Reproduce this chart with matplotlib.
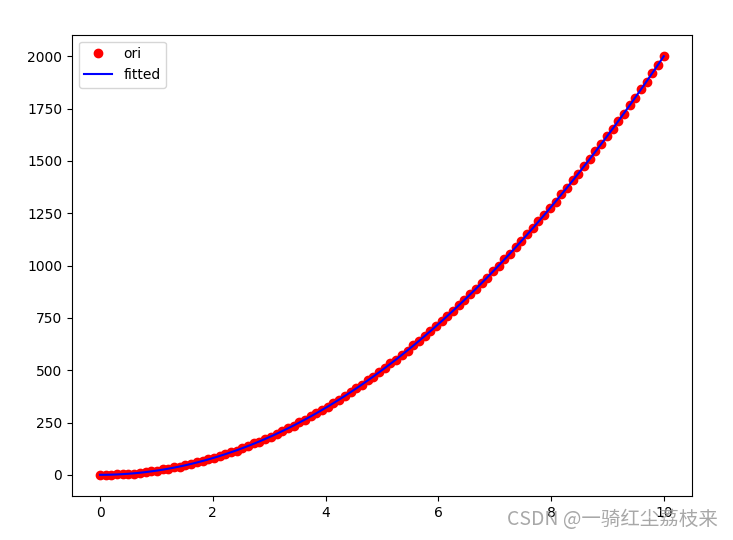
import matplotlib
matplotlib.use("Agg")
import matplotlib.pyplot as plt
import numpy as np

# sample points (100 points from 0 to 10)
x_vals = np.linspace(0, 10, 100)
y_ori = [0.0, 1.5, -0.8, 3.2, 2.1, 6.0, 5.8, 11.2, 12.0, 18.1,
         19.5, 26.3, 28.0, 35.9, 38.6, 47.2, 51.0, 60.4, 64.8, 75.1,
         80.2, 91.4, 97.5, 109.3, 116.0, 129.0, 136.4, 150.1, 158.7, 173.0,
         182.2, 197.5, 207.6, 223.6, 234.4, 251.4, 263.0, 280.8, 293.2, 311.8,
         325.0, 344.4, 358.5, 378.7, 393.6, 414.6, 430.3, 452.2, 468.7, 491.3,
         508.7, 532.2, 550.3, 574.6, 593.5, 618.7, 638.4, 664.4, 685.0, 711.7,
         733.1, 760.7, 782.9, 811.3, 834.3, 863.6, 887.4, 917.4, 942.1, 972.9,
         998.4, 1030.1, 1056.3, 1088.9, 1115.9, 1149.2, 1177.2, 1211.3, 1240.0, 1274.9,
         1304.5, 1340.2, 1370.6, 1407.2, 1438.3, 1475.7, 1507.7, 1545.9, 1578.7, 1617.8,
         1651.4, 1691.2, 1725.7, 1766.3, 1801.6, 1843.0, 1879.1, 1921.4, 1958.3, 2003.5]

coef = np.polyfit(x_vals, y_ori, 2)
y_fit = np.polyval(coef, x_vals)

fig = plt.figure(figsize=(7.33, 5.4), dpi=100)
ax = fig.add_subplot(111)
plt.subplots_adjust(left=0.098, right=0.944, top=0.936, bottom=0.0815)

ax.plot(x_vals, y_ori, "ro", label="ori")
ax.plot(x_vals, y_fit, "b-", label="fitted")
ax.legend(loc="upper left")

# watermark, sits over the x tick labels like in the original
fig.text(0.98, 0.018, "CSDN @一骑红尘荔枝来", ha="right", va="bottom",
         fontsize=14, color="#999999", alpha=0.85,
         family=["Noto Sans CJK SC", "DejaVu Sans"])

plt.savefig("out.png", dpi=100)
